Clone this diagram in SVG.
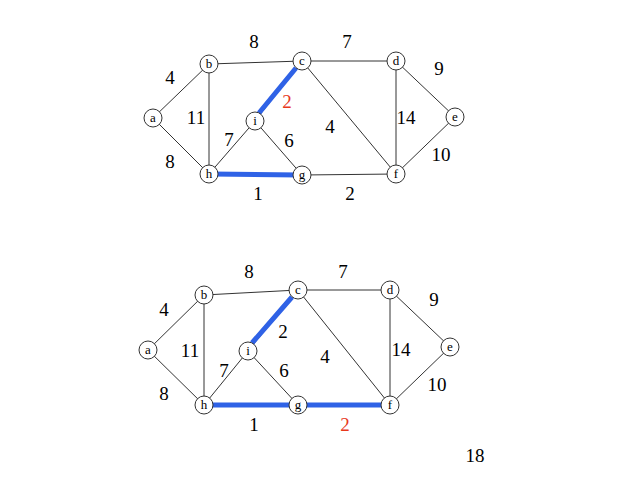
<svg xmlns="http://www.w3.org/2000/svg" width="638" height="478" viewBox="0 0 638 478">
<style>
.e{stroke:#333;stroke-width:1;fill:none}
.b{stroke:#2f62e6;stroke-width:5;fill:none}
circle{fill:#fff;stroke:#333;stroke-width:1}
text{font-family:"Liberation Serif",serif;text-anchor:middle}
.n{font-size:13px}
.w{font-size:19px;fill:#000}
.r{fill:#e8381c}
</style>
<rect width="638" height="478" fill="#fff"/>
<g id="connectors">
<g transform="translate(0,0)">
<path class="e" d="M153,118L209,64M153,118L209,174M209,64L302,61M209,64L209,174M302,61L396,61M302,61L255,121M302,61L396,174M396,61L455,117M396,61L396,174M455,117L396,174M255,121L209,174M255,121L302,175M209,174L302,175M302,175L396,174"/>
<path class="b" d="M259,113L296,68M211,174L300,175"/>
</g>
<path class="e" d="M148,350L204,295M148,350L204,405M204,295L298,290M204,295L204,405M298,290L390,290M298,290L248,351M298,290L390,405M390,290L450,347M390,290L390,405M450,347L390,405M248,351L204,405M248,351L298,405M204,405L390,405"/>
<path class="b" d="M252,343L292,297M206,405L388,405"/>
</g>
<g id="nodes-top">
<g id="a1"><circle cx="153" cy="118" r="9"/><text class="n" x="153" y="122">a</text></g>
<g id="b1"><circle cx="209" cy="64" r="9"/><text class="n" x="209" y="68">b</text></g>
<g id="c1"><circle cx="302" cy="61" r="9"/><text class="n" x="302" y="65">c</text></g>
<g id="d1"><circle cx="396" cy="61" r="9"/><text class="n" x="396" y="65">d</text></g>
<g id="e1"><circle cx="455" cy="117" r="9"/><text class="n" x="455" y="121">e</text></g>
<g id="i1"><circle cx="255" cy="121" r="9"/><text class="n" x="255" y="125">i</text></g>
<g id="h1"><circle cx="209" cy="174" r="9"/><text class="n" x="209" y="178">h</text></g>
<g id="g1"><circle cx="302" cy="175" r="9"/><text class="n" x="302" y="179">g</text></g>
<g id="f1"><circle cx="396" cy="174" r="9"/><text class="n" x="396" y="178">f</text></g>
</g>
<g id="nodes-bottom">
<g id="a2"><circle cx="148" cy="350" r="9"/><text class="n" x="148" y="354">a</text></g>
<g id="b2"><circle cx="204" cy="295" r="9"/><text class="n" x="204" y="299">b</text></g>
<g id="c2"><circle cx="298" cy="290" r="9"/><text class="n" x="298" y="294">c</text></g>
<g id="d2"><circle cx="390" cy="290" r="9"/><text class="n" x="390" y="294">d</text></g>
<g id="e2"><circle cx="450" cy="347" r="9"/><text class="n" x="450" y="351">e</text></g>
<g id="i2"><circle cx="248" cy="351" r="9"/><text class="n" x="248" y="355">i</text></g>
<g id="h2"><circle cx="204" cy="405" r="9"/><text class="n" x="204" y="409">h</text></g>
<g id="g2"><circle cx="298" cy="405" r="9"/><text class="n" x="298" y="409">g</text></g>
<g id="f2"><circle cx="390" cy="405" r="9"/><text class="n" x="390" y="409">f</text></g>
</g>
<g id="labels">
<text class="w" x="254" y="48">8</text><text class="w" x="347" y="48">7</text>
<text class="w" x="170" y="84">4</text><text class="w" x="439" y="75">9</text>
<text class="w" x="196" y="124">11</text><text class="w r" x="287" y="108">2</text>
<text class="w" x="406" y="124">14</text><text class="w" x="229" y="146">7</text>
<text class="w" x="289" y="147">6</text><text class="w" x="330" y="133">4</text>
<text class="w" x="170" y="168">8</text><text class="w" x="441" y="161">10</text>
<text class="w" x="258" y="200">1</text><text class="w" x="350" y="200">2</text>
<text class="w" x="249" y="278">8</text><text class="w" x="343" y="278">7</text>
<text class="w" x="164" y="316">4</text><text class="w" x="434" y="306">9</text>
<text class="w" x="190" y="357">11</text><text class="w" x="283" y="338">2</text>
<text class="w" x="401" y="356">14</text><text class="w" x="224" y="377">7</text>
<text class="w" x="284" y="377">6</text><text class="w" x="325" y="363">4</text>
<text class="w" x="164" y="400">8</text><text class="w" x="437" y="391">10</text>
<text class="w" x="254" y="431">1</text><text class="w r" x="345" y="431">2</text>
<text class="w" x="475" y="462">18</text>
</g>
</svg>
